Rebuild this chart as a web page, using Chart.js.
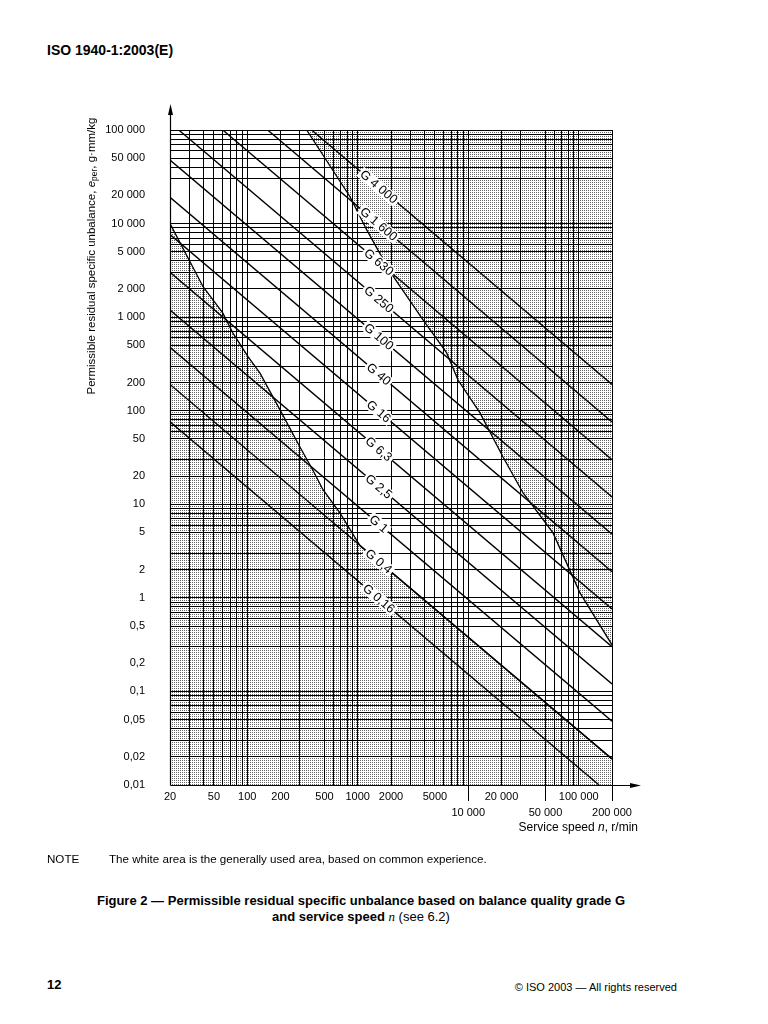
<!DOCTYPE html>
<html lang="en">
<head>
    <meta charset="UTF-8">
    <title>ISO 1940-1 Figure 2 - Permissible residual specific unbalance</title>
    <script src="https://cdn.jsdelivr.net/npm/chart.js"></script>
    <style>
        body {
            margin: 0;
            background: #fff;
            font-family: 'Liberation Sans', Arial, sans-serif;
            color: #000;
        }
        .page {
            position: relative;
            width: 768px;
            height: 1024px;
            overflow: hidden;
        }
        #unbalanceChart {
            position: absolute;
            left: 0;
            top: 0;
        }
        .txt {
            position: absolute;
            white-space: nowrap;
            line-height: 16px;
        }
        .header { left: 47px; top: 42px; font-weight: bold; font-size: 14px; }
        .note { top: 851px; font-size: 11.6px; }
        .caption { left: 0; width: 722px; top: 893px; text-align: center; font-weight: bold; font-size: 13px; }
        .caption i { font-family: 'Liberation Serif', serif; font-weight: normal; }
        .caption span { font-weight: normal; }
        .pageno { left: 47px; top: 977px; font-weight: bold; font-size: 13px; }
        .copy { right: 91px; top: 979px; font-size: 11px; }
    </style>
</head>
<body>
<div class="page">
    <div class="txt header">ISO 1940-1:2003(E)</div>
    <canvas id="unbalanceChart" width="768" height="860"></canvas>
    <div class="txt note" style="left:47px">NOTE</div>
    <div class="txt note" style="left:109px">The white area is the generally used area, based on common experience.</div>
    <div class="txt caption">Figure 2 — Permissible residual specific unbalance based on balance quality grade G<br>and service speed <i>n</i> <span>(see 6.2)</span></div>
    <div class="txt pageno">12</div>
    <div class="txt copy">© ISO 2003 — All rights reserved</div>
</div>

<script>
    // balance quality grade lines, end points (r/min, g·mm/kg)
    const gradeNames = ['G 4 000', 'G 1 600', 'G 630', 'G 250', 'G 100', 'G 40', 'G 16', 'G 6,3', 'G 2,5', 'G 1', 'G 0,4', 'G 0,16'];
    const gradeStartSpeed = [382, 153, 60, 24, 20, 20, 20, 20, 20, 20, 20, 20];
    const gradeStartUnbalance = [100000, 100000, 100000, 100000, 47700, 19100, 7640, 3010, 1190, 477, 191, 76];
    const gradeEndSpeed = [200000, 200000, 200000, 200000, 200000, 200000, 200000, 200000, 200000, 200000, 200000, 152800];
    const gradeEndUnbalance = [191, 76, 30, 12, 4.8, 1.9, 0.76, 0.30, 0.12, 0.048, 0.019, 0.01];
    const gradeLabelSpeed = 1550;

    // limits of the white (generally used) area
    const upperShadeSpeed = [345, 851, 1206, 1958, 3900, 6380, 8080, 12770, 20640, 31340, 58500, 102600, 200000];
    const upperShadeUnbalance = [100000, 19360, 8550, 3063, 933, 415, 213, 94.7, 32, 13.2, 4.94, 1.13, 0.315];
    const lowerShadeSpeed = [20, 40, 60, 74, 102, 130, 198, 300, 394, 485, 690, 1050, 200000];
    const lowerShadeUnbalance = [10000, 2100, 1110, 680, 376, 254, 102, 41, 23, 14.3, 8.1, 3.6, 0.019];

    // grid lines and tick labels
    const speedGrid = [30, 40, 50, 60, 70, 80, 90, 100, 200, 300, 500, 600, 700, 800, 900, 1000,
        2000, 3000, 4000, 5000, 6000, 7000, 8000, 9000, 10000, 20000, 30000, 50000, 60000, 70000,
        80000, 90000, 100000, 200000];
    const speedTickValues = [20, 50, 100, 200, 500, 1000, 2000, 5000, 20000, 100000];
    const speedTickLabels = ['20', '50', '100', '200', '500', '1000', '2000', '5000', '20 000', '100 000'];
    const speedLowValues = [10000, 50000, 200000];
    const speedLowLabels = ['10 000', '50 000', '200 000'];

    const unbalanceGrid = [0.02, 0.03, 0.04, 0.05, 0.06, 0.07, 0.08, 0.09, 0.1, 0.3, 0.5, 0.6, 0.7, 0.8, 0.9, 1,
        2, 3, 5, 6, 7, 8, 9, 10, 20, 30, 50, 60, 70, 80, 90, 100, 200, 300, 500, 600, 700, 800, 900, 1000,
        2000, 3000, 4000, 5000, 6000, 7000, 8000, 9000, 10000, 30000, 40000, 50000, 60000, 70000, 80000,
        90000, 100000];
    const unbalanceTickValues = [100000, 50000, 20000, 10000, 5000, 2000, 1000, 500, 200, 100, 50, 20, 10, 5, 2, 1, 0.5, 0.2, 0.1, 0.05, 0.02, 0.01];
    const unbalanceTickLabels = ['100 000', '50 000', '20 000', '10 000', '5 000', '2 000', '1 000', '500', '200', '100',
        '50', '20', '10', '5', '2', '1', '0,5', '0,2', '0,1', '0,05', '0,02', '0,01'];

    const FONT = "'Liberation Sans', Arial, sans-serif";

    function uniqueSorted(arr) {
        return [...new Set(arr)].sort((a, b) => a - b);
    }

    function dotPattern() {
        const c = document.createElement('canvas');
        c.width = 2;
        c.height = 2;
        const g = c.getContext('2d');
        g.fillStyle = '#666';
        g.fillRect(0, 0, 1, 1);
        return g.createPattern(c, 'repeat');
    }

    function toPoints(xs, ys) {
        return xs.map((x, i) => ({ x: x, y: ys[i] }));
    }

    // draws a run of differently styled text pieces around (0,0)
    function drawRichText(ctx, pieces, align) {
        let total = 0;
        pieces.forEach(p => { ctx.font = p.font; p.w = ctx.measureText(p.text).width; total += p.w; });
        let cx = align === 'right' ? -total : -total / 2;
        ctx.textAlign = 'left';
        ctx.textBaseline = 'middle';
        pieces.forEach(p => {
            ctx.font = p.font;
            ctx.fillText(p.text, cx, p.dy || 0);
            cx += p.w;
        });
    }

    const decorations = {
        id: 'decorations',
        afterDraw(chart) {
            const { ctx, chartArea: a, scales: { x, y } } = chart;
            ctx.save();
            ctx.strokeStyle = '#000';
            ctx.fillStyle = '#000';
            ctx.lineWidth = 1.2;

            // axes with arrows
            const ax = Math.round(a.left) + 0.5;
            const ay = Math.round(a.bottom) + 0.5;
            ctx.beginPath();
            ctx.moveTo(ax, ay);
            ctx.lineTo(ax, a.top - 22);
            ctx.moveTo(ax, ay);
            ctx.lineTo(a.right + 26, ay);
            ctx.stroke();
            ctx.beginPath();
            ctx.moveTo(ax, a.top - 26);
            ctx.lineTo(ax - 2.5, a.top - 15);
            ctx.lineTo(ax + 2.5, a.top - 15);
            ctx.closePath();
            ctx.moveTo(a.right + 29, ay);
            ctx.lineTo(a.right + 18, ay - 2.5);
            ctx.lineTo(a.right + 18, ay + 2.5);
            ctx.closePath();
            ctx.fill();

            // longer ticks for the second label row
            ctx.lineWidth = 1;
            ctx.beginPath();
            speedLowValues.forEach(v => {
                const px = Math.round(x.getPixelForValue(v)) + 0.5;
                ctx.moveTo(px, a.bottom);
                ctx.lineTo(px, a.bottom + 16);
            });
            ctx.stroke();

            // grade labels sitting on their lines
            gradeNames.forEach((name, i) => {
                const pts = chart.getDatasetMeta(i).data;
                const x0 = pts[0].x, y0 = pts[0].y, x1 = pts[1].x, y1 = pts[1].y;
                const px = x.getPixelForValue(gradeLabelSpeed);
                const py = y0 + (px - x0) * (y1 - y0) / (x1 - x0);
                ctx.save();
                ctx.translate(px, py);
                ctx.rotate(Math.atan2(y1 - y0, x1 - x0));
                ctx.font = '12.5px ' + FONT;
                const w = ctx.measureText(name).width;
                ctx.fillStyle = '#fff';
                ctx.fillRect(-w / 2 - 2, -6, w + 4, 12);
                ctx.fillStyle = '#000';
                ctx.textAlign = 'center';
                ctx.textBaseline = 'middle';
                ctx.fillText(name, 0, 0.5);
                ctx.restore();
            });

            // axis titles
            ctx.save();
            ctx.translate(92, 256);
            ctx.rotate(-Math.PI / 2);
            drawRichText(ctx, [
                { text: 'Permissible residual specific unbalance, ', font: '11.5px ' + FONT },
                { text: 'e', font: 'italic 11.5px ' + FONT },
                { text: 'per', font: '8.5px ' + FONT, dy: 3 },
                { text: ', g·mm/kg', font: '11.5px ' + FONT }
            ], 'center');
            ctx.restore();

            ctx.save();
            ctx.translate(638, 828);
            drawRichText(ctx, [
                { text: 'Service speed ', font: '12px ' + FONT },
                { text: 'n', font: 'italic 12px ' + FONT },
                { text: ', r/min', font: '12px ' + FONT }
            ], 'right');
            ctx.restore();

            ctx.restore();
        }
    };

    function createChart() {
        const pattern = dotPattern();
        const datasets = gradeNames.map((name, i) => ({
            label: name,
            data: [{ x: gradeStartSpeed[i], y: gradeStartUnbalance[i] }, { x: gradeEndSpeed[i], y: gradeEndUnbalance[i] }],
            borderColor: '#000',
            borderWidth: 1.4,
            pointRadius: 0,
            fill: false
        }));
        datasets.push({
            label: 'upper limit',
            data: toPoints(upperShadeSpeed, upperShadeUnbalance),
            borderColor: '#000',
            borderWidth: 1.3,
            pointRadius: 0,
            fill: 'end',
            backgroundColor: pattern
        });
        datasets.push({
            label: 'lower limit',
            data: toPoints(lowerShadeSpeed, lowerShadeUnbalance),
            borderColor: '#000',
            borderWidth: 1.3,
            pointRadius: 0,
            fill: 'start',
            backgroundColor: pattern
        });

        new Chart(document.getElementById('unbalanceChart'), {
            type: 'line',
            data: { datasets: datasets },
            options: {
                responsive: false,
                animation: false,
                events: [],
                layout: { padding: { left: 0, top: 130, right: 156, bottom: 15 } },
                plugins: {
                    legend: { display: false },
                    tooltip: { enabled: false },
                    filler: { drawTime: 'beforeDraw' }
                },
                scales: {
                    x: {
                        type: 'logarithmic',
                        min: 20,
                        max: 200000,
                        afterBuildTicks: (scale) => {
                            scale.ticks = uniqueSorted([20, ...speedGrid, ...speedTickValues, ...speedLowValues]).map(v => ({ value: v }));
                        },
                        afterFit: (scale) => { scale.height = 60; },
                        border: { display: false },
                        grid: {
                            color: (c) => (c.tick && speedGrid.includes(c.tick.value)) ? '#000' : 'rgba(0,0,0,0)',
                            lineWidth: 1,
                            drawTicks: false
                        },
                        ticks: {
                            autoSkip: false,
                            maxRotation: 0,
                            minRotation: 0,
                            padding: 4,
                            color: '#000',
                            font: { family: FONT, size: 11, lineHeight: '16px' },
                            callback: (value) => {
                                const i = speedTickValues.indexOf(value);
                                if (i >= 0) return [speedTickLabels[i], ''];
                                const j = speedLowValues.indexOf(value);
                                if (j >= 0) return ['', speedLowLabels[j]];
                                return '';
                            }
                        }
                    },
                    y: {
                        type: 'logarithmic',
                        min: 0.01,
                        max: 100000,
                        afterBuildTicks: (scale) => {
                            scale.ticks = uniqueSorted([0.01, ...unbalanceGrid, ...unbalanceTickValues]).map(v => ({ value: v }));
                        },
                        afterFit: (scale) => { scale.width = 170; },
                        border: { display: false },
                        grid: {
                            color: (c) => (c.tick && unbalanceGrid.includes(c.tick.value)) ? '#000' : 'rgba(0,0,0,0)',
                            lineWidth: 1,
                            drawTicks: false
                        },
                        ticks: {
                            autoSkip: false,
                            padding: 25,
                            color: '#000',
                            font: { family: FONT, size: 11 },
                            callback: (value) => {
                                const i = unbalanceTickValues.indexOf(value);
                                return i >= 0 ? unbalanceTickLabels[i] : '';
                            }
                        }
                    }
                }
            },
            plugins: [decorations]
        });
    }

    window.addEventListener('load', createChart);
</script>
</body>
</html>
